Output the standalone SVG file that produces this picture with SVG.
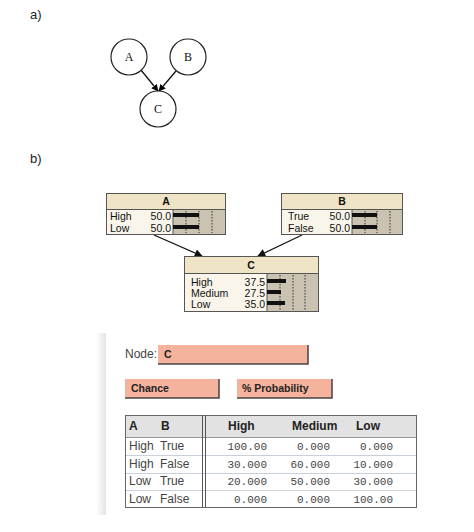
<svg xmlns="http://www.w3.org/2000/svg" width="474" height="532" viewBox="0 0 474 532">
<defs>
<marker id="ah" viewBox="0 0 10 10" refX="9" refY="5" markerWidth="7" markerHeight="7" orient="auto" markerUnits="userSpaceOnUse"><path d="M0,0 L10,5 L0,10 z" fill="#000"/></marker>
<marker id="ah2" viewBox="0 0 10 10" refX="9" refY="5" markerWidth="9" markerHeight="8" orient="auto" markerUnits="userSpaceOnUse"><path d="M0,0 L10,5 L0,10 z" fill="#111"/></marker>
<linearGradient id="side" x1="0" x2="1" y1="0" y2="0"><stop offset="0" stop-color="#fff"/><stop offset="1" stop-color="#e4e4e4"/></linearGradient>
</defs>
<style>
.lbl{font-family:"Liberation Sans",Arial,sans-serif;font-size:13px;fill:#222}
.circ{fill:#fff;stroke:#222;stroke-width:1.2}
.ct{font-family:"Liberation Serif","Times New Roman",serif;font-size:12px;fill:#111;text-anchor:middle}
.hdr{fill:#efe4c6;stroke:#555;stroke-width:1}
.body{fill:#f9f5ea;stroke:#555;stroke-width:1}
.bar{fill:#cbc3b2}
.dot{stroke:#333;stroke-width:1;stroke-dasharray:1.5,1.5}
.bk{fill:#111}
.nt{font-family:"Liberation Sans",Arial,sans-serif;font-size:10.5px;fill:#111}
.nh{font-family:"Liberation Sans",Arial,sans-serif;font-size:10.5px;font-weight:bold;fill:#111;text-anchor:middle}
.num{text-anchor:end}
.btn{fill:#f5b39d}
.sh{stroke:#444;stroke-width:1.5}
.bt{font-family:"Liberation Sans",Arial,sans-serif;font-size:10.5px;font-weight:bold;fill:#222}
.th{font-family:"Liberation Sans",Arial,sans-serif;font-size:12px;font-weight:bold;fill:#222}
.td{font-family:"Liberation Sans",Arial,sans-serif;font-size:12px;fill:#444}
.tm{font-family:"Liberation Mono","DejaVu Sans Mono",monospace;font-size:11px;fill:#444;text-anchor:end}
.conn{stroke:#111;stroke-width:1.3;fill:none}
</style>
<text class="lbl" x="30" y="19">a)</text>
<text class="lbl" x="30" y="163">b)</text>
<g id="connectors">
<line class="conn" x1="141" y1="70" x2="158" y2="91" marker-end="url(#ah)"/>
<line class="conn" x1="176" y1="71" x2="159" y2="91" marker-end="url(#ah)"/>
<line class="conn" x1="154" y1="235" x2="202" y2="256" marker-end="url(#ah2)"/>
<line class="conn" x1="302" y1="235" x2="258" y2="256" marker-end="url(#ah2)"/>
</g>
<g id="nodeA_a"><circle class="circ" cx="129" cy="57" r="18"/><text class="ct" x="129" y="61">A</text></g>
<g id="nodeB_a"><circle class="circ" cx="188" cy="57" r="18"/><text class="ct" x="188" y="61">B</text></g>
<g id="nodeC_a"><circle class="circ" cx="158" cy="109" r="18"/><text class="ct" x="158" y="113">C</text></g>
<g id="nodeA_b">
<rect class="hdr" x="106.5" y="193.5" width="119" height="16"/>
<rect class="body" x="106.5" y="209.5" width="119" height="25"/>
<rect class="bar" x="173" y="210" width="52" height="24"/>
<line x1="173" y1="210" x2="173" y2="234" stroke="#555"/>
<line class="dot" x1="186" y1="211" x2="186" y2="233"/><line class="dot" x1="199" y1="211" x2="199" y2="233"/><line class="dot" x1="212" y1="211" x2="212" y2="233"/>
<rect class="bk" x="173" y="213" width="26" height="4"/><rect class="bk" x="173" y="225" width="26" height="4"/>
<text class="nh" x="166" y="205">A</text>
<text class="nt" x="110" y="220">High</text><text class="nt num" x="171" y="220">50.0</text>
<text class="nt" x="110" y="232">Low</text><text class="nt num" x="171" y="232">50.0</text>
</g>
<g id="nodeB_b">
<rect class="hdr" x="281.5" y="193.5" width="121" height="16"/>
<rect class="body" x="281.5" y="209.5" width="121" height="25"/>
<rect class="bar" x="352" y="210" width="50" height="24"/>
<line x1="352" y1="210" x2="352" y2="234" stroke="#555"/>
<line class="dot" x1="365" y1="211" x2="365" y2="233"/><line class="dot" x1="377" y1="211" x2="377" y2="233"/><line class="dot" x1="390" y1="211" x2="390" y2="233"/>
<rect class="bk" x="352" y="213" width="25" height="4"/><rect class="bk" x="352" y="225" width="25" height="4"/>
<text class="nh" x="342" y="205">B</text>
<text class="nt" x="288" y="220">True</text><text class="nt num" x="350" y="220">50.0</text>
<text class="nt" x="288" y="232">False</text><text class="nt num" x="350" y="232">50.0</text>
</g>
<g id="nodeC_b">
<rect class="hdr" x="184.5" y="256.5" width="134" height="17"/>
<rect class="body" x="184.5" y="273.5" width="134" height="38"/>
<rect class="bar" x="267" y="274" width="51" height="37"/>
<line x1="267" y1="274" x2="267" y2="311" stroke="#555"/>
<line class="dot" x1="280" y1="275" x2="280" y2="310"/><line class="dot" x1="293" y1="275" x2="293" y2="310"/><line class="dot" x1="305" y1="275" x2="305" y2="310"/>
<rect class="bk" x="267" y="279" width="19" height="4"/><rect class="bk" x="267" y="290" width="14" height="4"/><rect class="bk" x="267" y="301" width="18" height="4"/>
<text class="nh" x="251" y="269">C</text>
<text class="nt" x="191" y="286">High</text><text class="nt num" x="265" y="286">37.5</text>
<text class="nt" x="191" y="297">Medium</text><text class="nt num" x="265" y="297">27.5</text>
<text class="nt" x="191" y="308">Low</text><text class="nt num" x="265" y="308">35.0</text>
</g>
<g id="panel">
<rect x="96" y="333" width="10" height="182" fill="url(#side)"/>
<text class="td" x="125" y="358" fill="#222">Node:</text>
<rect class="btn" x="158" y="345" width="150" height="19"/>
<polyline class="sh" points="158,364 308,364 308,345" fill="none"/>
<text class="bt" x="164" y="358">C</text>
<rect class="btn" x="125" y="379" width="94" height="19"/>
<polyline class="sh" points="125,398 219,398 219,379" fill="none"/>
<text class="bt" x="131" y="392">Chance</text>
<rect class="btn" x="237" y="379" width="95" height="19"/>
<polyline class="sh" points="237,398 332,398 332,379" fill="none"/>
<text class="bt" x="242" y="392">% Probability</text>
</g>
<g id="table">
<rect x="125.5" y="415.5" width="291" height="22" fill="#e2e2e2"/>
<rect x="125.5" y="437.5" width="291" height="70" fill="#fff"/>
<line x1="125.5" y1="455.5" x2="416.5" y2="455.5" stroke="#c8d0dc"/>
<line x1="125.5" y1="473.5" x2="416.5" y2="473.5" stroke="#c8d0dc"/>
<line x1="125.5" y1="490.5" x2="416.5" y2="490.5" stroke="#c8d0dc"/>
<line x1="125.5" y1="437.5" x2="416.5" y2="437.5" stroke="#999"/>
<rect x="125.5" y="415.5" width="291" height="92" fill="none" stroke="#666"/>
<line x1="202.5" y1="415.5" x2="202.5" y2="507.5" stroke="#555"/>
<line x1="205.5" y1="415.5" x2="205.5" y2="507.5" stroke="#555"/>
<text class="th" x="129" y="430">A</text><text class="th" x="161" y="430">B</text>
<text class="th" x="228" y="430">High</text><text class="th" x="292" y="430">Medium</text><text class="th" x="356" y="430">Low</text>
<text class="td" x="129" y="450">High</text><text class="td" x="160" y="450">True</text>
<text class="tm" x="267" y="450">100.00</text><text class="tm" x="330" y="450">0.000</text><text class="tm" x="393" y="450">0.000</text>
<text class="td" x="129" y="468">High</text><text class="td" x="160" y="468">False</text>
<text class="tm" x="267" y="468">30.000</text><text class="tm" x="330" y="468">60.000</text><text class="tm" x="393" y="468">10.000</text>
<text class="td" x="129" y="485">Low</text><text class="td" x="160" y="485">True</text>
<text class="tm" x="267" y="485">20.000</text><text class="tm" x="330" y="485">50.000</text><text class="tm" x="393" y="485">30.000</text>
<text class="td" x="129" y="503">Low</text><text class="td" x="160" y="503">False</text>
<text class="tm" x="267" y="503">0.000</text><text class="tm" x="330" y="503">0.000</text><text class="tm" x="393" y="503">100.00</text>
</g>
</svg>
